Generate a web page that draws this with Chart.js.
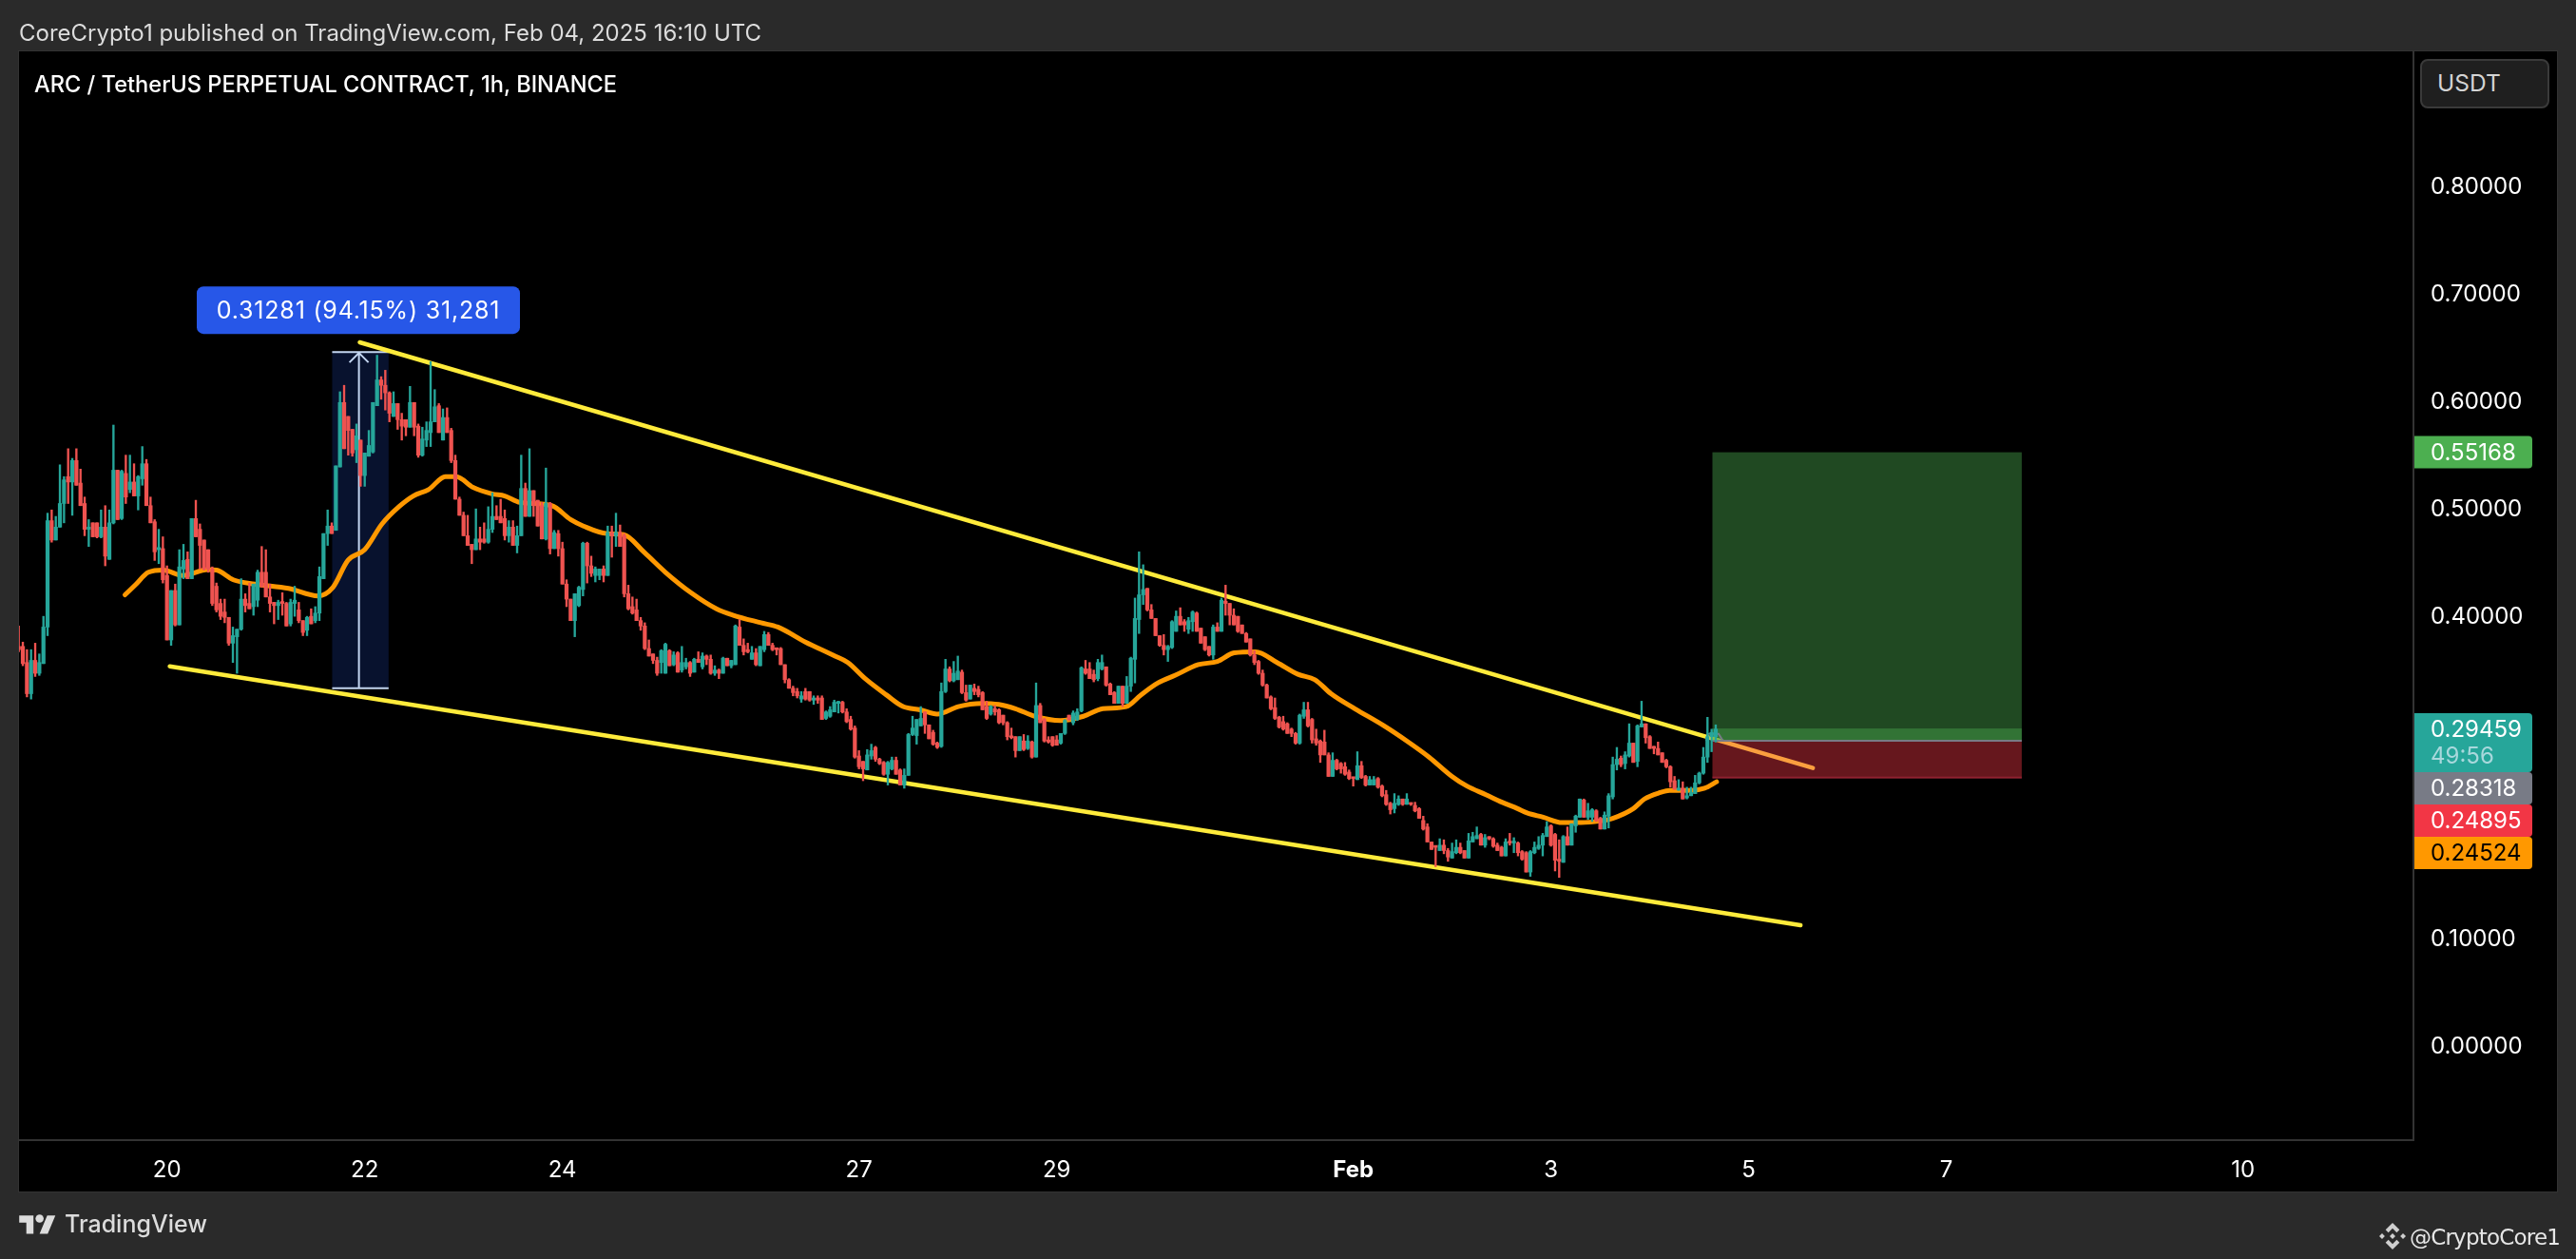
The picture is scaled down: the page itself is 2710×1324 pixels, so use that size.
<!DOCTYPE html>
<html>
<head>
<meta charset="utf-8">
<title>ARC / TetherUS</title>
<script src="https://cdn.jsdelivr.net/npm/chart.js@4"></script>
<style>
  html, body { margin: 0; padding: 0; background: #2a2a2a; }
  body { width: 2710px; height: 1324px; position: relative; overflow: hidden; font-family: Inter, sans-serif; }
  canvas { position: absolute; left: 0; top: 0; }
  .txt { position: absolute; white-space: nowrap; line-height: 1; }
  #published { left: 20px; top: 23px; font-size: 24px; color: #dcdcdc; }
  #symbol { left: 36px; top: 77px; font-size: 23.6px; color: #fff; font-weight: 500; }
  #unit { left: 2546px; top: 62px; width: 136px; height: 52px; box-sizing: border-box; background: #1f1f1f; border: 2px solid #3a3a3a; border-radius: 8px; }
  #unitText { left: 2564px; top: 75px; font-size: 24.5px; color: #d4d4d4; }
  #brand { left: 68px; top: 1275px; font-size: 25px; color: #dcdcdc; font-weight: 500; }
  #author { left: 2535px; top: 1290px; font-family: "DejaVu Sans", sans-serif; font-size: 23px; letter-spacing: -0.8px; color: #e6e6e6; }
  svg { position: absolute; }
</style>
</head>
<body>
<canvas id="chart" width="2710" height="1324"></canvas>
<div class="txt" id="published">CoreCrypto1 published on TradingView.com, Feb 04, 2025 16:10 UTC</div>
<div class="txt" id="symbol">ARC / TetherUS PERPETUAL CONTRACT, 1h, BINANCE</div>
<div id="unit" class="txt"></div>
<div class="txt" id="unitText">USDT</div>
<svg style="left:20px;top:1274px" width="39" height="30" viewBox="0 0 36 28" fill="#dcdcdc">
  <path d="M14 22H7V11H0V4h14v18zM28 22h-8l7.5-18h8L28 22z"/><circle cx="20" cy="7" r="4"/>
</svg>
<div class="txt" id="brand">TradingView</div>
<svg style="left:2503px;top:1286px" width="28" height="28" viewBox="0 0 32 32" fill="#cfcfcf">
  <polygon points="16,0 24.4,8.4 21,11.7 16,6.7 11,11.7 7.6,8.4"/>
  <polygon points="16,32 24.4,23.6 21,20.3 16,25.3 11,20.3 7.6,23.6"/>
  <polygon points="0,16 3.4,12.6 6.7,16 3.4,19.4"/>
  <polygon points="32,16 28.6,12.6 25.3,16 28.6,19.4"/>
  <polygon points="16,12.6 19.4,16 16,19.4 12.6,16"/>
</svg>
<div class="txt" id="author">@CryptoCore1</div>

<script>
// candles, one per hour, first one is 36h before Jan 20 00:00
const firstHour = -36;

const candleSides = (
  'RRRGRGGGRG' + 'GGRGRRRGRR' + 'GRGGRGRGRG' + 'GRRRGRRGRG' + 'GRGRRRRRRR' +
  'RRGGGRRGGR' + 'RRRGRRGGRR' + 'GRGGGGRGGR' + 'RRGRGGGGRR' + 'RGRRRGRRGG' +
  'GGRGRRRRRR' + 'RGRRGGRRRG' + 'RGGRGRRRGR' + 'GRRRRGGGRR' + 'GGRGRGRRRR' +
  'RRRRRRGGRG' + 'RGGRGRGRRG' + 'RGRGGRRRGR' + 'GGRRRRRRRR' + 'GRRGRRGGGG' +
  'RRRRRRGGRR' + 'RGGRRGGGGG' + 'RRRRGGRGGR' + 'RGRRRRGRRR' + 'RRRGRGRGRR' +
  'RRRGGRGGGR' + 'RRGGRRRGRG' + 'GGGGRRRRRG' + 'GGRRGGRRRR' + 'GRGRRRRRRR' +
  'RRRRRRRRRR' + 'RGGRRRRRRG' + 'RRRRRGRRGG' + 'RRRRGGRGRR' + 'RRRRRGRRGG' +
  'RRGGGRGRRR' + 'RGRGRRRGGG' + 'GGRRRGRGGG' + 'RGGRRGGGGR' + 'GGRGGRRRRR' +
  'RRRGRGGGGG' + 'GGG'
).split('');

const highs = [
  .390,.375,.368,.368,.374,.364,.399,.495,.498,.492,
  .540,.529,.555,.546,.555,.536,.510,.489,.486,.486,
  .498,.502,.498,.577,.535,.535,.549,.549,.541,.530,
  .557,.545,.510,.489,.480,.473,.446,.423,.429,.461,
  .466,.459,.490,.507,.485,.470,.461,.445,.430,.415,
  .415,.398,.389,.387,.434,.420,.430,.429,.442,.464,
  .461,.429,.412,.414,.421,.412,.415,.427,.412,.395,
  .399,.406,.408,.445,.476,.498,.486,.539,.608,.614,
  .585,.573,.578,.563,.551,.572,.598,.642,.622,.628,
  .608,.608,.597,.588,.582,.613,.598,.578,.575,.580,
  .636,.610,.597,.592,.593,.574,.549,.510,.496,.493,
  .466,.499,.482,.486,.501,.514,.502,.508,.498,.488,
  .488,.483,.549,.523,.555,.516,.507,.505,.537,.505,
  .479,.479,.468,.433,.415,.420,.427,.468,.468,.455,
  .445,.443,.446,.483,.483,.495,.484,.476,.428,.417,
  .415,.398,.393,.377,.364,.361,.368,.374,.368,.366,
  .366,.371,.360,.357,.360,.366,.365,.363,.363,.353,
  .350,.361,.360,.358,.391,.396,.378,.374,.371,.369,
  .371,.385,.384,.374,.369,.370,.354,.341,.334,.332,
  .329,.332,.329,.325,.325,.325,.311,.315,.321,.320,
  .320,.313,.306,.297,.274,.264,.275,.280,.278,.267,
  .264,.264,.268,.268,.257,.257,.290,.306,.303,.315,
  .310,.298,.293,.282,.337,.359,.352,.357,.362,.349,
  .335,.335,.336,.334,.329,.320,.316,.316,.313,.307,
  .301,.295,.287,.287,.289,.288,.283,.337,.318,.304,
  .287,.287,.288,.290,.303,.307,.311,.313,.352,.358,
  .356,.349,.359,.363,.352,.337,.329,.334,.334,.343,
  .361,.416,.459,.447,.425,.410,.397,.381,.382,.372,
  .395,.404,.407,.396,.398,.404,.403,.388,.380,.371,
  .391,.393,.416,.428,.411,.406,.399,.391,.384,.378,
  .367,.358,.349,.336,.325,.323,.306,.306,.300,.295,
  .291,.308,.319,.319,.304,.294,.284,.293,.272,.272,
  .266,.263,.263,.256,.249,.273,.264,.251,.250,.250,
  .249,.242,.237,.226,.234,.232,.229,.234,.225,.226,
  .221,.213,.206,.189,.185,.192,.191,.183,.188,.191,
  .188,.181,.197,.198,.203,.197,.196,.194,.193,.188,
  .185,.192,.197,.193,.189,.181,.180,.181,.189,.194,
  .197,.208,.205,.197,.191,.195,.203,.206,.214,.229,
  .229,.225,.220,.219,.212,.217,.234,.268,.277,.269,
  .273,.299,.281,.298,.320,.299,.288,.278,.282,.272,
  .266,.260,.250,.247,.245,.240,.240,.251,.254,.277,
  .305,.294,.298
];

const bodyTops = [
  .371,.371,.356,.358,.358,.356,.389,.488,.488,.482,
  .504,.526,.529,.544,.544,.523,.504,.482,.486,.486,
  .482,.482,.486,.535,.535,.534,.532,.524,.524,.529,
  .541,.541,.502,.487,.463,.462,.437,.423,.423,.445,
  .451,.452,.490,.490,.480,.470,.461,.443,.427,.411,
  .403,.398,.381,.387,.415,.415,.411,.429,.440,.440,
  .440,.417,.412,.412,.412,.411,.412,.414,.405,.395,
  .398,.399,.402,.436,.476,.483,.483,.539,.598,.598,
  .585,.573,.567,.563,.551,.558,.598,.619,.619,.614,
  .607,.597,.597,.582,.582,.598,.598,.576,.564,.572,
  .580,.594,.595,.584,.584,.572,.544,.508,.493,.474,
  .466,.471,.471,.471,.480,.492,.492,.492,.490,.482,
  .482,.474,.518,.518,.516,.516,.507,.502,.504,.504,
  .477,.476,.462,.429,.415,.420,.426,.467,.467,.446,
  .443,.443,.443,.477,.477,.477,.477,.474,.420,.408,
  .405,.395,.390,.369,.364,.358,.367,.373,.367,.363,
  .365,.356,.356,.356,.359,.359,.362,.362,.359,.349,
  .349,.360,.360,.358,.390,.389,.372,.368,.365,.365,
  .371,.382,.382,.372,.369,.369,.354,.340,.332,.329,
  .325,.329,.329,.323,.323,.323,.310,.312,.319,.319,
  .319,.310,.303,.295,.269,.264,.270,.274,.277,.266,
  .263,.263,.265,.265,.256,.251,.289,.295,.303,.304,
  .310,.298,.291,.281,.329,.350,.350,.346,.348,.347,
  .328,.335,.332,.331,.328,.315,.315,.313,.312,.307,
  .300,.287,.287,.287,.283,.283,.282,.316,.316,.303,
  .284,.287,.284,.290,.302,.307,.309,.310,.351,.350,
  .350,.345,.356,.356,.352,.336,.328,.334,.334,.334,
  .360,.397,.419,.424,.425,.405,.397,.381,.372,.371,
  .394,.399,.399,.394,.395,.403,.402,.388,.380,.371,
  .389,.389,.414,.413,.411,.400,.399,.391,.383,.378,
  .363,.357,.346,.335,.324,.314,.305,.301,.299,.294,
  .290,.307,.312,.312,.303,.285,.283,.282,.270,.265,
  .265,.262,.259,.254,.249,.260,.260,.250,.247,.247,
  .248,.241,.233,.225,.225,.229,.229,.229,.225,.223,
  .220,.209,.203,.189,.185,.186,.186,.181,.180,.184,
  .184,.181,.190,.194,.195,.196,.193,.194,.192,.186,
  .184,.189,.189,.189,.188,.180,.179,.180,.184,.186,
  .195,.203,.204,.196,.173,.194,.194,.206,.213,.229,
  .228,.218,.219,.218,.211,.214,.232,.261,.266,.267,
  .270,.281,.281,.297,.299,.299,.287,.278,.276,.272,
  .265,.259,.246,.239,.239,.232,.235,.244,.253,.268,
  .287,.291,.294
];

const bodyBottoms = [
  .368,.355,.327,.327,.346,.346,.355,.389,.470,.470,
  .482,.504,.524,.524,.521,.502,.480,.480,.473,.473,
  .473,.455,.452,.486,.489,.490,.510,.517,.511,.511,
  .527,.502,.486,.459,.461,.433,.377,.377,.391,.391,
  .443,.434,.434,.473,.465,.443,.443,.411,.405,.399,
  .398,.374,.374,.380,.387,.409,.406,.408,.414,.427,
  .417,.411,.409,.409,.411,.390,.392,.411,.395,.384,
  .386,.392,.395,.402,.434,.476,.476,.479,.538,.555,
  .572,.551,.554,.530,.530,.548,.552,.595,.614,.607,
  .588,.585,.582,.576,.575,.575,.575,.549,.549,.563,
  .570,.580,.570,.563,.570,.544,.508,.493,.474,.465,
  .461,.461,.468,.468,.468,.480,.489,.486,.474,.474,
  .465,.465,.474,.492,.492,.502,.483,.471,.471,.462,
  .462,.462,.429,.415,.395,.395,.409,.424,.446,.439,
  .437,.437,.437,.437,.474,.474,.464,.420,.406,.402,
  .395,.390,.369,.362,.358,.346,.356,.346,.353,.354,
  .347,.349,.352,.346,.347,.356,.352,.359,.346,.346,
  .346,.346,.353,.353,.354,.372,.366,.366,.359,.354,
  .353,.368,.372,.368,.368,.354,.340,.332,.328,.325,
  .322,.322,.321,.321,.321,.303,.304,.306,.310,.318,
  .310,.301,.294,.268,.259,.257,.256,.269,.266,.262,
  .252,.252,.257,.252,.242,.242,.251,.289,.288,.297,
  .298,.285,.280,.277,.278,.329,.339,.339,.340,.328,
  .321,.322,.329,.326,.312,.304,.308,.310,.300,.300,
  .287,.286,.274,.274,.275,.276,.268,.268,.300,.283,
  .282,.279,.279,.281,.290,.303,.300,.303,.311,.346,
  .341,.340,.341,.350,.335,.326,.318,.318,.318,.318,
  .334,.359,.396,.419,.405,.397,.381,.372,.368,.368,
  .370,.385,.391,.391,.387,.394,.385,.374,.368,.363,
  .363,.385,.385,.411,.400,.391,.385,.383,.375,.363,
  .356,.346,.335,.323,.313,.304,.296,.294,.290,.290,
  .281,.281,.306,.297,.284,.281,.270,.270,.250,.250,
  .257,.257,.252,.248,.248,.247,.249,.242,.242,.242,
  .240,.232,.224,.219,.220,.224,.224,.224,.224,.218,
  .211,.201,.189,.182,.184,.181,.181,.175,.174,.179,
  .179,.174,.174,.189,.192,.186,.186,.192,.185,.181,
  .176,.176,.188,.188,.179,.173,.161,.161,.179,.183,
  .186,.194,.186,.172,.171,.170,.186,.186,.204,.212,
  .212,.212,.212,.209,.201,.201,.213,.231,.261,.261,
  .262,.269,.263,.264,.296,.286,.276,.276,.270,.263,
  .259,.245,.238,.239,.229,.230,.232,.234,.244,.253,
  .268,.287,.287
];

const lows = [
  .366,.353,.324,.322,.343,.344,.355,.381,.468,.470,
  .482,.486,.504,.493,.521,.502,.474,.464,.473,.472,
  .472,.446,.452,.485,.489,.489,.504,.514,.511,.498,
  .521,.502,.486,.451,.448,.430,.377,.372,.390,.391,
  .434,.434,.434,.473,.443,.442,.440,.409,.403,.396,
  .393,.372,.356,.346,.386,.403,.406,.400,.408,.426,
  .417,.403,.392,.396,.400,.390,.390,.399,.393,.381,
  .381,.392,.393,.395,.434,.465,.476,.479,.538,.555,
  .549,.548,.542,.520,.520,.548,.551,.595,.601,.591,
  .580,.585,.573,.563,.567,.575,.567,.547,.548,.557,
  .557,.580,.570,.563,.570,.542,.508,.493,.474,.465,
  .448,.461,.461,.467,.467,.477,.489,.486,.470,.468,
  .465,.458,.474,.492,.492,.492,.483,.471,.470,.457,
  .462,.455,.429,.408,.395,.380,.408,.418,.430,.436,
  .431,.433,.431,.437,.454,.464,.464,.417,.405,.401,
  .395,.386,.368,.362,.355,.344,.346,.346,.353,.353,
  .347,.347,.350,.343,.347,.356,.350,.354,.345,.344,
  .341,.346,.353,.351,.354,.372,.363,.365,.359,.353,
  .353,.366,.372,.367,.363,.354,.337,.332,.325,.323,
  .319,.321,.320,.317,.318,.303,.303,.305,.310,.309,
  .309,.300,.293,.267,.257,.246,.256,.266,.264,.261,
  .251,.242,.256,.252,.242,.239,.251,.288,.280,.297,
  .290,.285,.279,.276,.277,.328,.338,.338,.340,.327,
  .320,.322,.326,.324,.312,.303,.307,.307,.299,.298,
  .284,.285,.268,.274,.274,.275,.267,.268,.300,.282,
  .281,.278,.279,.280,.289,.302,.298,.302,.310,.345,
  .341,.338,.339,.349,.334,.326,.318,.318,.315,.318,
  .329,.337,.383,.410,.404,.397,.381,.371,.363,.357,
  .369,.385,.391,.385,.383,.385,.385,.374,.367,.362,
  .359,.385,.385,.400,.391,.391,.384,.383,.375,.362,
  .354,.345,.334,.323,.312,.303,.295,.293,.290,.287,
  .280,.280,.304,.296,.281,.279,.263,.270,.250,.250,
  .256,.253,.251,.247,.241,.247,.248,.241,.242,.242,
  .239,.231,.223,.215,.216,.223,.223,.224,.223,.217,
  .211,.200,.189,.182,.166,.181,.178,.171,.174,.178,
  .178,.174,.174,.189,.192,.186,.184,.191,.184,.181,
  .176,.176,.186,.179,.176,.172,.161,.157,.178,.182,
  .176,.194,.185,.162,.156,.170,.186,.186,.198,.212,
  .212,.210,.208,.208,.201,.201,.202,.229,.256,.259,
  .257,.268,.263,.259,.296,.281,.276,.271,.270,.263,
  .258,.240,.238,.237,.229,.229,.232,.234,.243,.252,
  .263,.273,.282
];

// orange moving average, read at a number of hours
const maHours = [-10.2,-7.6,-4.5,-0.9,3.8,9.9,12,16.1,21.3,29.5,36.7,40.3,43.9,48,52.2,56.3,59.8,63.5,67.6,70.2,74.3,78.9,82,85.7,93.4,98,101.1,106.8,110.9,116,121,127.2,133.4,137.5,144.2,148.3,155,162.2,165.3,169.5,174.6,178.7,182.9,187,192.1,197.8,201.9,206,210.7,216.9,222.5,227.2,232.9,236.5,240.6,244.7,250.4,255,259.1,264.3,269.5,274.6,278.7,282.6,288.4,295.5,301,306.4,311.8,315.6,320.2,324.1,327.9,330.2,334.1,338.7,343.3,347.9,351,356,358.7,362.5,364.8,370.2,373.3,376.2];
const maValues = [.419,.4285,.440,.442,.437,.4424,.442,.433,.429,.425,.418,.426,.451,.461,.485,.501,.511,.517,.529,.529,.519,.513,.511,.505,.502,.489,.483,.476,.475,.458,.440,.421,.406,.400,.393,.389,.375,.362,.356,.341,.326,.315,.312,.308,.315,.318,.317,.313,.306,.302,.306,.313,.315,.326,.337,.344,.354,.357,.365,.366,.356,.345,.340,.327,.313,.297,.283,.268,.2505,.241,.233,.226,.220,.216,.212,.207,.207,.2085,.211,.220,.229,.235,.237,.237,.239,.245];

// drawn trend lines
const upperHours = [46.8, 399.6];
const upperPrices = [.654, .2578];
const lowerHours = [0.67, 396.6];
const lowerPrices = [.3525, .1115];

// long position tool
const boxHours = [375.2, 450.3];
const targetPrice = .55168;
const entryPrice = .28318;
const stopPrice = .24895;
const lastPrice = .29459;
const pathHours = [373.7, 374.1, 376.7, 377.8];
const pathPrices = [.283, .2897, .2897, .283];

// price range tool
const rangeHours = [40.1, 53.8];
const rangeMidHour = 46.6;
const rangePrices = [.332, .645];
const rangeText = '0.31281 (94.15%) 31,281';

// axes
const tickHours = [0, 48, 96, 168, 216, 288, 336, 384, 432, 504];
const tickLabels = ['20', '22', '24', '27', '29', 'Feb', '3', '5', '7', '10'];
const priceTicks = [0, .1, .4, .5, .6, .7, .8];

// tags on the price axis, stacked under the last price
const tagTexts = ['0.29459', '0.28318', '0.24895', '0.24524'];
const countdownText = '49:56';

const UP = '#26a69a';
const DOWN = '#ef5350';
const sideColors = candleSides.map(s => (s === 'G' ? UP : DOWN));
if (new Set([candleSides.length, highs.length, lows.length, bodyTops.length, bodyBottoms.length]).size !== 1) {
  console.error('candle arrays differ', candleSides.length, highs.length, lows.length, bodyTops.length, bodyBottoms.length);
}

function pairs(xs, ys) {
  return xs.map((x, i) => ({ x: x, y: ys[i] }));
}

function tag(ctx, x, y, w, h, color) {
  ctx.fillStyle = color;
  ctx.beginPath();
  ctx.roundRect(x, y, w, h, [0, 4, 4, 0]);
  ctx.fill();
}

const overlayPlugin = {
  id: 'overlay',
  beforeDraw(chart) {
    const ctx = chart.ctx;
    ctx.save();
    ctx.fillStyle = '#2a2a2a';
    ctx.fillRect(0, 0, chart.width, chart.height);
    ctx.fillStyle = '#000';
    ctx.fillRect(20, 54, 2670, 1199);
    ctx.strokeStyle = '#333';
    ctx.lineWidth = 1;
    ctx.strokeRect(19.5, 53.5, 2671, 1200);
    ctx.restore();
  },
  beforeDatasetsDraw(chart) {
    const ctx = chart.ctx, xs = chart.scales.x, ys = chart.scales.y;
    const left = xs.getPixelForValue(rangeHours[0]), right = xs.getPixelForValue(rangeHours[1]);
    const top = ys.getPixelForValue(rangePrices[1]), bottom = ys.getPixelForValue(rangePrices[0]);
    const mid = xs.getPixelForValue(rangeMidHour);
    ctx.save();
    ctx.fillStyle = '#08122e';
    ctx.fillRect(left, top, right - left, bottom - top);
    ctx.strokeStyle = '#c3d5f0';
    ctx.lineWidth = 2;
    ctx.beginPath();
    ctx.moveTo(left, top); ctx.lineTo(right, top);
    ctx.moveTo(left, bottom); ctx.lineTo(right, bottom);
    ctx.moveTo(mid, top); ctx.lineTo(mid, bottom);
    ctx.moveTo(mid - 10, top + 11); ctx.lineTo(mid, top + 1); ctx.lineTo(mid + 10, top + 11);
    ctx.stroke();
    ctx.fillStyle = '#2757e8';
    ctx.beginPath();
    ctx.roundRect(207, top - 69, 340, 50, 7);
    ctx.fill();
    ctx.fillStyle = '#fff';
    ctx.font = '25px Inter, sans-serif';
    ctx.letterSpacing = '0.8px';
    ctx.textAlign = 'center';
    ctx.textBaseline = 'middle';
    ctx.fillText(rangeText, 377, top - 43);
    ctx.restore();
  },
  // the boxes go over the upper trend line but under the candles
  afterDatasetDraw(chart, args) {
    if (args.index !== 0) return;
    const ctx = chart.ctx, xs = chart.scales.x, ys = chart.scales.y;
    const left = xs.getPixelForValue(boxHours[0]), right = xs.getPixelForValue(boxHours[1]);
    const yTarget = ys.getPixelForValue(targetPrice), yEntry = ys.getPixelForValue(entryPrice);
    const yStop = ys.getPixelForValue(stopPrice), yLast = ys.getPixelForValue(lastPrice);
    ctx.save();
    ctx.fillStyle = 'rgba(76,175,80,0.42)';
    ctx.fillRect(left, yTarget, right - left, yEntry - yTarget);
    ctx.fillRect(left, yLast, right - left, yEntry - yLast);
    ctx.fillStyle = 'rgba(242,54,69,0.42)';
    ctx.fillRect(left, yEntry, right - left, yStop - yEntry);
    ctx.fillStyle = '#8f2230';
    ctx.fillRect(left, yStop - 1, right - left, 2);
    ctx.fillStyle = '#787b86';
    ctx.fillRect(left, yEntry - 1, right - left, 2);
    ctx.restore();
  },
  afterDraw(chart) {
    const ctx = chart.ctx, ys = chart.scales.y;
    const x = 2540, w = 124, textX = 2557;
    const yTarget = ys.getPixelForValue(targetPrice), yLast = ys.getPixelForValue(lastPrice);
    ctx.save();
    ctx.font = '24px Inter, sans-serif';
    ctx.textBaseline = 'middle';
    tag(ctx, x, yTarget - 17, w, 34, '#4caf50');
    ctx.fillStyle = '#fff';
    ctx.fillText('0.55168', textX, yTarget + 1.5);
    // teal one has the countdown, the others stack right below
    const top = yLast - 16;
    tag(ctx, x, top, w, 62, '#26a69a');
    ctx.fillStyle = '#fff';
    ctx.fillText(tagTexts[0], textX, yLast + 1.5);
    ctx.fillStyle = '#a8d8dc';
    ctx.fillText(countdownText, textX, yLast + 30);
    tag(ctx, x, top + 62, w, 34, '#787b86');
    ctx.fillStyle = '#fff';
    ctx.fillText(tagTexts[1], textX, top + 80);
    tag(ctx, x, top + 96, w, 34, '#f23645');
    ctx.fillStyle = '#fff';
    ctx.fillText(tagTexts[2], textX, top + 114);
    tag(ctx, x, top + 130, w, 34, '#ff9800');
    ctx.fillStyle = '#000';
    ctx.fillText(tagTexts[3], textX, top + 148);
    ctx.restore();
  }
};

const hours = highs.map((_, i) => firstHour + i);

new Chart(document.getElementById('chart').getContext('2d'), {
  type: 'bar',
  data: {
    datasets: [
      { type: 'line', label: 'upper', data: pairs(upperHours, upperPrices), borderColor: '#ffeb3b', borderWidth: 4.5, pointRadius: 0, borderCapStyle: 'round', order: 9 },
      { type: 'line', label: 'lower', data: pairs(lowerHours, lowerPrices), borderColor: '#ffeb3b', borderWidth: 4.5, pointRadius: 0, borderCapStyle: 'round', order: 8 },
      { type: 'line', label: 'ma', data: pairs(maHours, maValues), borderColor: '#ff9800', borderWidth: 5, pointRadius: 0, cubicInterpolationMode: 'monotone', borderCapStyle: 'round', order: 7 },
      { type: 'line', label: 'path', data: pairs(pathHours, pathPrices), borderColor: '#787b86', borderWidth: 2, pointRadius: 0, order: 6 },
      {
        label: 'wicks',
        data: hours.map((h, i) => ({ x: h, y: [lows[i], highs[i]] })),
        backgroundColor: sideColors,
        barThickness: 1.7,
        grouped: false,
        order: 5
      },
      {
        label: 'bodies',
        data: hours.map((h, i) => ({ x: h, y: [bodyBottoms[i], bodyTops[i]] })),
        backgroundColor: sideColors,
        barThickness: 3.6,
        minBarLength: 2,
        grouped: false,
        order: 4
      }
    ]
  },
  options: {
    responsive: false,
    animation: false,
    devicePixelRatio: 1,
    layout: { padding: { left: 20, right: 20, top: 54, bottom: 71 } },
    plugins: { legend: { display: false }, title: { display: false }, tooltip: { enabled: false } },
    scales: {
      x: {
        type: 'linear',
        offset: false,
        min: -35.93,
        max: 545.4,
        grid: { display: false, drawTicks: false },
        border: { display: true, color: '#333', width: 2 },
        afterFit(scale) { scale.height = 54; },
        afterBuildTicks(scale) { scale.ticks = tickHours.map(v => ({ value: v })); },
        afterTickToLabelConversion(scale) { scale.ticks.forEach((t, i) => { t.label = tickLabels[i]; }); },
        ticks: {
          autoSkip: false,
          maxRotation: 0,
          padding: 17,
          color: '#fff',
          font: ctx => ({ family: 'Inter, sans-serif', size: 24, weight: tickLabels[ctx.index] === 'Feb' ? '700' : '400' })
        }
      },
      y: {
        type: 'linear',
        position: 'right',
        min: -0.0885,
        max: 0.9248,
        grid: { display: false, drawTicks: false },
        border: { display: true, color: '#333', width: 2 },
        afterFit(scale) { scale.width = 151; },
        afterBuildTicks(scale) { scale.ticks = priceTicks.map(v => ({ value: v })); },
        ticks: {
          padding: 18,
          labelOffset: 1.5,
          color: '#fff',
          font: { family: 'Inter, sans-serif', size: 24 },
          callback: v => Number(v).toFixed(5)
        }
      }
    }
  },
  plugins: [overlayPlugin]
});
</script>
</body>
</html>
